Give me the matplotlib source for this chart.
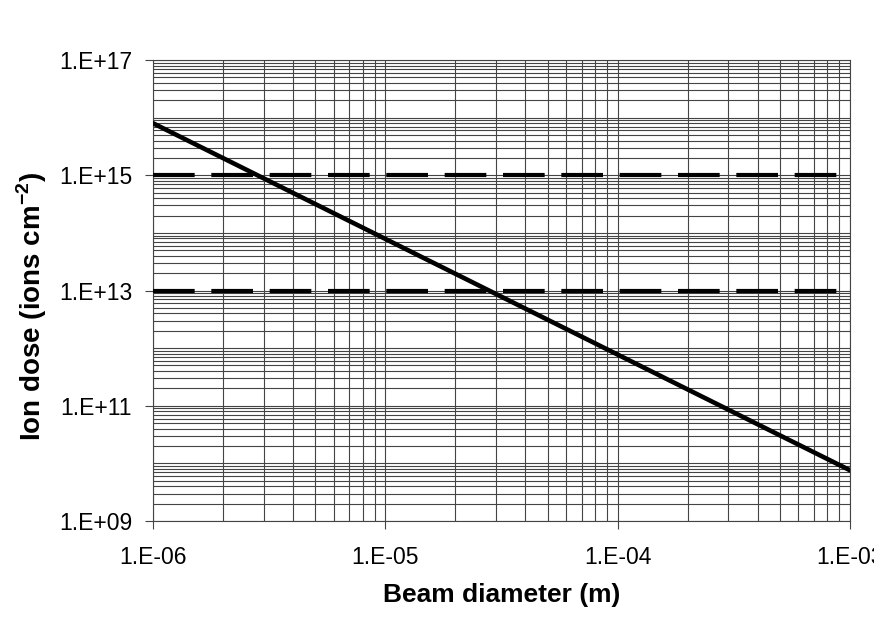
import numpy as np
import matplotlib.pyplot as plt
from matplotlib.ticker import LogLocator, FixedLocator, FuncFormatter, NullFormatter

plt.rcParams['font.family'] = ['Liberation Sans', 'DejaVu Sans']
plt.rcParams['mathtext.fontset'] = 'custom'
plt.rcParams['mathtext.rm'] = 'Liberation Sans'
plt.rcParams['mathtext.bf'] = 'Liberation Sans:bold'

# Daten
beam_diameter = [1e-6, 1e-3]          # m
ion_dose = [8.0e15, 7.6e9]            # ions cm^-2
dose_limits = [1e15, 1e13]            # horizontale Grenzen
x_ticks = [1e-6, 1e-5, 1e-4, 1e-3]
y_ticks = [1e9, 1e11, 1e13, 1e15, 1e17]


def sci_label(v, pos):
    exp = int(np.round(np.log10(v)))
    return "1.E%+03d" % exp


fig = plt.figure(figsize=(8.74, 6.23), dpi=100)
ax = fig.add_axes([0.175, 0.1637, 0.7975, 0.74])

ax.set_xscale("log")
ax.set_yscale("log")
ax.set_xlim(1e-6, 1e-3)
ax.set_ylim(1e9, 1e17)

# Gitter auf allen Zwischenwerten
ax.xaxis.set_major_locator(FixedLocator(x_ticks))
ax.xaxis.set_minor_locator(LogLocator(base=10, subs=np.arange(2, 10), numticks=20))
ax.yaxis.set_major_locator(FixedLocator(y_ticks))
ax.yaxis.set_minor_locator(LogLocator(base=10, subs=np.arange(1, 10), numticks=40))
ax.xaxis.set_major_formatter(FuncFormatter(sci_label))
ax.yaxis.set_major_formatter(FuncFormatter(sci_label))
ax.xaxis.set_minor_formatter(NullFormatter())
ax.yaxis.set_minor_formatter(NullFormatter())
ax.grid(True, which="both", color="#444444", linewidth=0.8)
ax.tick_params(which="minor", length=0)
ax.tick_params(which="major", length=6, width=0.8, labelsize=16.5, color="#444444")
ax.tick_params(axis="x", pad=12)
ax.tick_params(axis="y", pad=9)
for s in ax.spines.values():
    s.set_color("#444444")
    s.set_linewidth(0.8)

for lim in dose_limits:
    ax.axhline(lim, color="black", linewidth=3, linestyle=(0, (10, 4)), zorder=3)
ax.plot(beam_diameter, ion_dose, color="black", linewidth=3.3, zorder=4)

ax.set_xlabel("Beam diameter (m)", fontsize=19, fontweight="bold", labelpad=10)
ax.set_ylabel("Ion dose (ions cm$^{\\mathbf{-2}}$)", fontsize=20, fontweight="bold", va="center")
ax.yaxis.set_label_coords(-0.174, 0.465)

fig.savefig("out.png", dpi=100)
